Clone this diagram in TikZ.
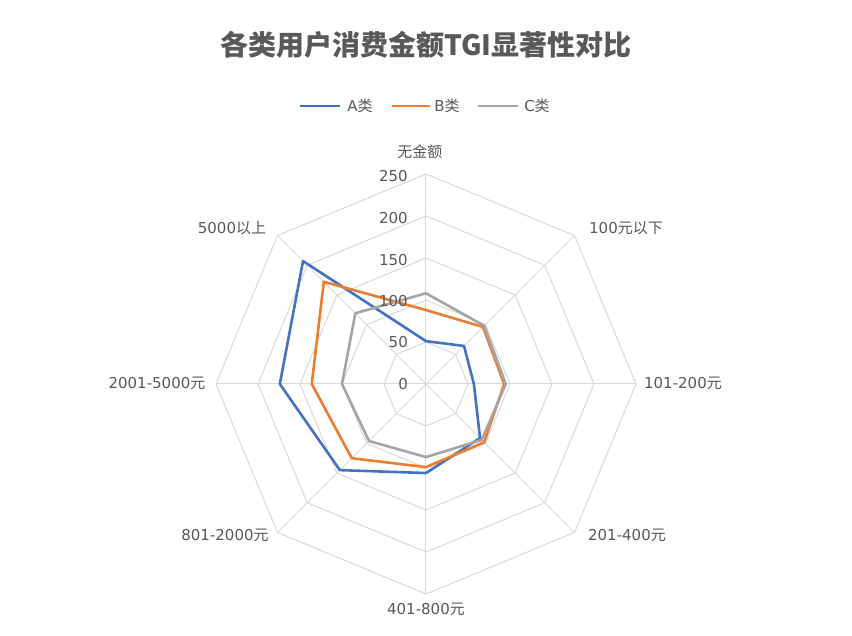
\documentclass[tikz,border=0pt]{standalone}
\usepackage{fontspec}
\setmainfont{Noto Sans CJK SC}
\newfontfamily\djv{DejaVu Sans}
\begin{document}
\begin{tikzpicture}[x=1pt,y=1pt,
  lbl/.style={text=black!65,font=\fontsize{15}{17}\selectfont,inner sep=0pt},
  ser/.style={line width=2.6pt,line join=round}]
\definecolor{cA}{HTML}{4472C4}\definecolor{cB}{HTML}{ED7D31}\definecolor{cC}{HTML}{A5A5A5}
\useasboundingbox[fill=white] (-426,-252) rectangle (426,384);
\def\s{0.84}
% grid
\foreach \r in {50,100,150,200,250}{
  \draw[black!15,line width=1pt] (90:\r*\s) \foreach \i in {1,...,7}{ -- (90-45*\i:\r*\s)} -- cycle;}
\foreach \i in {0,...,7}{\draw[black!15,line width=1pt] (0,0) -- (90-45*\i:250*\s);}
% series
\newcommand\plotser[9]{\draw[ser,#1] (90:#2*\s) -- (45:#3*\s) -- (0:#4*\s) -- (-45:#5*\s) -- (-90:#6*\s) -- (-135:#7*\s) -- (180:#8*\s) -- (135:#9*\s) -- cycle;}
\plotser{cA}{51}{64}{57}{91}{106}{145}{174}{207}
\plotser{cB}{88}{96}{93}{98}{99}{125}{136}{172}
\plotser{cC}{108}{98}{95}{94}{87}{96}{100}{119}
% axis numbers
\foreach \v/\y in {250/208,200/166,150/124,100/83,50/42,0/0}{
  \node[lbl,anchor=east] at (-18,\y) {\djv\v};}
% categories
\node[lbl] (c1) at (-6,232) {无金额};
\node[lbl] (c2) at (200,156) {{\djv 100}元以下};
\node[lbl] (c3) at (257,1) {{\djv 101-200}元};
\node[lbl] (c4) at (201,-151) {{\djv 201-400}元};
\node[lbl] (c5) at (0,-225) {{\djv 401-800}元};
\node[lbl] (c6) at (-201,-151) {{\djv 801-2000}元};
\node[lbl] (c7) at (-269,1) {{\djv 2001-5000}元};
\node[lbl] (c8) at (-194,156) {{\djv 5000}以上};
% title
\node[text=black!65,font=\bfseries\fontsize{28}{32}\selectfont] (t) at (0,339) {各类用户消费金额TGI显著性对比};
% legend
\draw[cA,line width=2.6pt] (-126,278) -- (-86,278); \node[lbl] (la) at (-66,278) {{\djv A}类};
\draw[cB,line width=2.6pt] (-34,278) -- (4,278); \node[lbl] (lb) at (21,278) {{\djv B}类};
\draw[cC,line width=2.6pt] (52,278) -- (92,278); \node[lbl] (lc) at (111,278) {{\djv C}类};
\end{tikzpicture}
\end{document}
